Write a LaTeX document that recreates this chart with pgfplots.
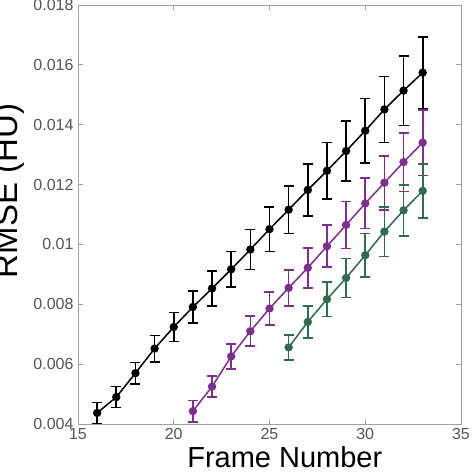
\documentclass[border=0pt]{standalone}
\usepackage{fontspec}
\setmainfont{Liberation Sans}
\usepackage{pgfplots}
\pgfplotsset{compat=1.18}
\usepackage{pgfplotstable}
\definecolor{mpurple}{RGB}{126,47,142}
\definecolor{mgreen}{RGB}{47,107,79}
\definecolor{axgray}{RGB}{160,160,160}
\definecolor{tickgray}{RGB}{85,85,85}

\pgfplotstableread{
x y e
16 0.00437 0.00035
17 0.00490 0.00035
18 0.00570 0.00036
19 0.00652 0.00044
20 0.00724 0.00049
21 0.00791 0.00054
22 0.00853 0.00058
23 0.00917 0.00060
24 0.00983 0.00067
25 0.01051 0.00075
26 0.01116 0.00080
27 0.01182 0.00087
28 0.01246 0.00094
29 0.01312 0.00100
30 0.01380 0.00107
31 0.01451 0.00110
32 0.01514 0.00116
33 0.01574 0.00120
}\blackdata

\pgfplotstableread{
x y e
21 0.00443 0.00036
22 0.00525 0.00035
23 0.00626 0.00042
24 0.00710 0.00050
25 0.00786 0.00055
26 0.00855 0.00060
27 0.00922 0.00067
28 0.00994 0.00070
29 0.01065 0.00078
30 0.01137 0.00084
31 0.01206 0.00090
32 0.01275 0.00098
33 0.01340 0.00110
}\purpledata

\pgfplotstableread{
x y e
26 0.00656 0.00042
27 0.00741 0.00053
28 0.00817 0.00058
29 0.00888 0.00065
30 0.00964 0.00073
31 0.01043 0.00083
32 0.01114 0.00085
33 0.01179 0.00090
}\greendata

\pgfplotsset{
  myseries/.style={#1, line width=1.5pt, mark=*, mark size=3.4pt,
    error bars/.cd, y dir=both, y explicit,
    error bar style={#1, line width=1.6pt},
    error mark options={#1, line width=1.6pt, mark size=5pt, rotate=90}},
}

\begin{document}
\begin{tikzpicture}
\begin{axis}[
  name=ax, at={(0,0)}, anchor=south west,
  scale only axis, width=383pt, height=419pt,
  xmin=15, xmax=35, ymin=0.004, ymax=0.018,
  xtick={15,20,25,30,35}, xticklabels={15,20,25,30,35},
  ytick={0.004,0.006,0.008,0.010,0.012,0.014,0.016,0.018},
  yticklabels={0.004,0.006,0.008,0.01,0.012,0.014,0.016,0.018},
  scaled y ticks=false,
  axis line style={axgray, line width=0.9pt},
  tick style={axgray, line width=0.9pt},
  major tick length=5pt, tick align=inside,
  xtick pos=both, ytick pos=both,
  ticklabel style={font=\fontsize{16}{16}\selectfont, text=tickgray},
  xticklabel style={yshift=-1pt},
  yticklabel style={xshift=-1pt},
  xlabel={Frame Number}, ylabel={RMSE (HU)},
  xlabel style={at={(axis description cs:0.54,-0.104)}, anchor=base, font=\fontsize{29}{29}\selectfont, text=black},
  ylabel style={at={(axis description cs:-0.157,0.556)}, anchor=base, rotate=0, font=\fontsize{33}{33}\selectfont, text=black},
  clip=false,
]
\addplot[myseries=black] table[x=x, y=y, y error=e]{\blackdata};
\addplot[myseries=mpurple] table[x=x, y=y, y error=e]{\purpledata};
\addplot[myseries=mgreen] table[x=x, y=y, y error=e]{\greendata};
\end{axis}
\pgfresetboundingbox
\path[use as bounding box] ([xshift=-78pt,yshift=-50pt]ax.south west) rectangle ++(474pt,474pt);
\end{tikzpicture}
\end{document}
